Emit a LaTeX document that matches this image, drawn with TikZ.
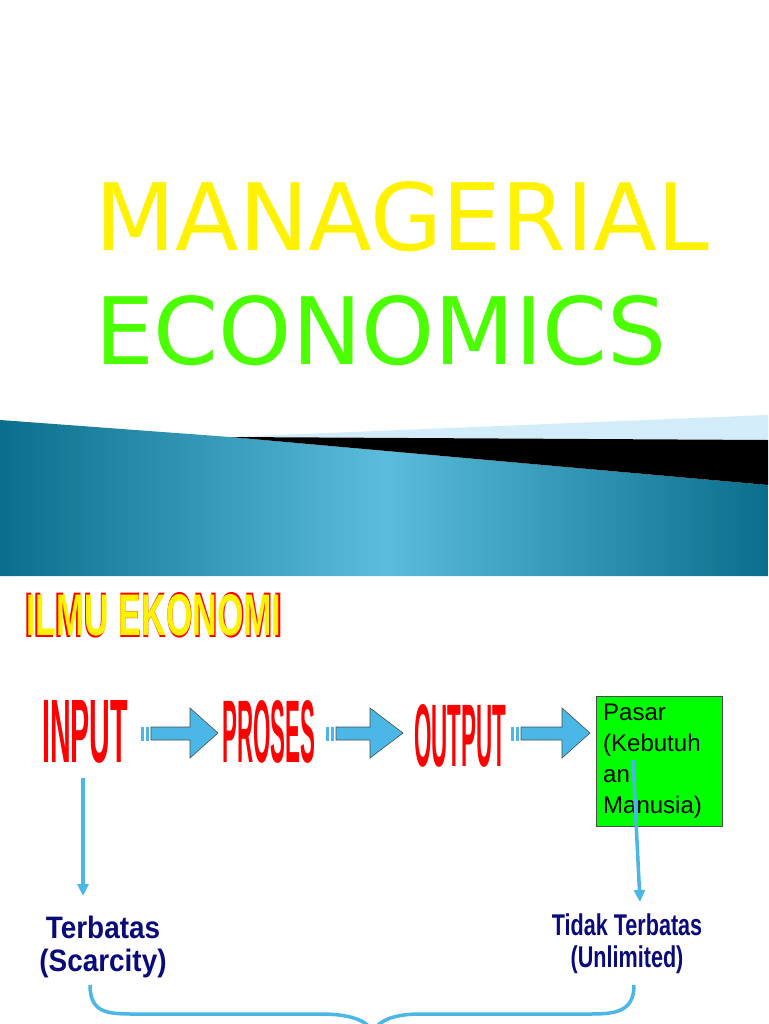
\documentclass[tikz,border=0pt]{standalone}
\usepackage{fontspec}
\setmainfont{Liberation Sans}
\newfontfamily\dejavu{DejaVu Sans}
\usetikzlibrary{arrows.meta}
\definecolor{ablue}{HTML}{4AB7E6}
\definecolor{navy}{HTML}{0A0A7A}
\definecolor{tealA}{HTML}{0A6F8C}
\definecolor{tealB}{HTML}{5BBCDC}
\tikzset{
  blk/.style={fill=ablue,draw=black!70,line width=0.6pt},
  dn/.style={draw=ablue,line width=3.5pt,-{Triangle[length=12pt,width=11pt]}},
  brc/.style={draw=ablue,line width=3.5pt},
  redw/.style={anchor=base west,inner sep=0,text=red,font=\bfseries},
}
\begin{document}
\begin{tikzpicture}[x=1pt,y=-1pt]
\useasboundingbox (0,0) rectangle (768,1024);
\fill[white] (0,0) rectangle (768,1024);
% banner
\shade[left color=tealA,right color=tealA,middle color=tealB] (0,420) -- (230,437) -- (768,485) -- (768,576) -- (0,576) -- cycle;
\fill[ablue!25] (230,437) -- (768,415) -- (768,440) -- cycle;
\fill[black] (230,437) -- (768,440) -- (768,485) -- cycle;
% titles
\node[anchor=base west,inner sep=0,text=yellow,font=\dejavu\fontsize{93}{93}\selectfont] (t1) at (95,250) {MANAGERIAL};
\node[anchor=base west,inner sep=0,text=green!60!lime,font=\dejavu\fontsize{93}{93}\selectfont] (t2) at (95,364) {ECONOMICS};
\node[redw] (ilmu) at (24,637) {\resizebox{259pt}{45pt}{ILMU EKONOMI}%
  \llap{\raisebox{2pt}{\makebox[259pt]{\color{yellow}\resizebox{255pt}{41pt}{ILMU EKONOMI}}}}};
% flow words
\node[redw] (in) at (42,762) {\resizebox{86pt}{62pt}{INPUT}};
\node[redw] (pr) at (222,762) {\resizebox{93pt}{62pt}{PROSES}};
\node[redw] (out) at (414,766) {\resizebox{92pt}{62pt}{OUTPUT}};
\node[draw=black!70,fill=green,minimum width=126pt,minimum height=130pt,anchor=north west,inner sep=0] (box) at (596,696) {};
\node[anchor=north west,align=left,font=\fontsize{24}{31}\selectfont,inner sep=0] (boxt) at (603,704) {Pasar\\(Kebutuh\\an\\Manusia)};
% block arrows
\foreach \a/\b/\h in {141/190/218,326/370/403,511/562/590}{
  \fill[ablue] (\a,727) rectangle (\a+3,741);
  \fill[ablue] (\a+5,727) rectangle (\a+8,741);
  \draw[blk] (\a+10,727) -- (\b,727) -- (\b,708) -- (\h,733) -- (\b,758) -- (\b,740) -- (\a+10,740) -- cycle;
}
% down arrows
\coordinate (d1) at (83,896);
\coordinate (d2) at (640,902);
\draw[dn] (83,778) -- (d1);
\draw[dn] (633,760) -- (d2);
% lower labels
\node[text=navy,align=center,font=\bfseries\fontsize{31}{33}\selectfont,inner sep=0] (sc) at (103,947) {\scalebox{0.9}[1]{Terbatas}\\\scalebox{0.9}[1]{(Scarcity)}};
\node[text=navy,align=center,font=\bfseries\fontsize{30}{32}\selectfont,inner sep=0] (un) at (627,944) {\scalebox{0.72}[1]{Tidak Terbatas}\\\scalebox{0.72}[1]{(Unlimited)}};
% brace
\draw[brc] (90,985) .. controls (90,1015) and (110,1014) .. (140,1014) -- (320,1014) .. controls (350,1014) and (365,1020) .. (372,1030);
\draw[brc] (634,985) .. controls (634,1012) and (615,1014) .. (590,1014) -- (420,1014) .. controls (395,1014) and (380,1020) .. (374,1030);
\end{tikzpicture}
\end{document}
